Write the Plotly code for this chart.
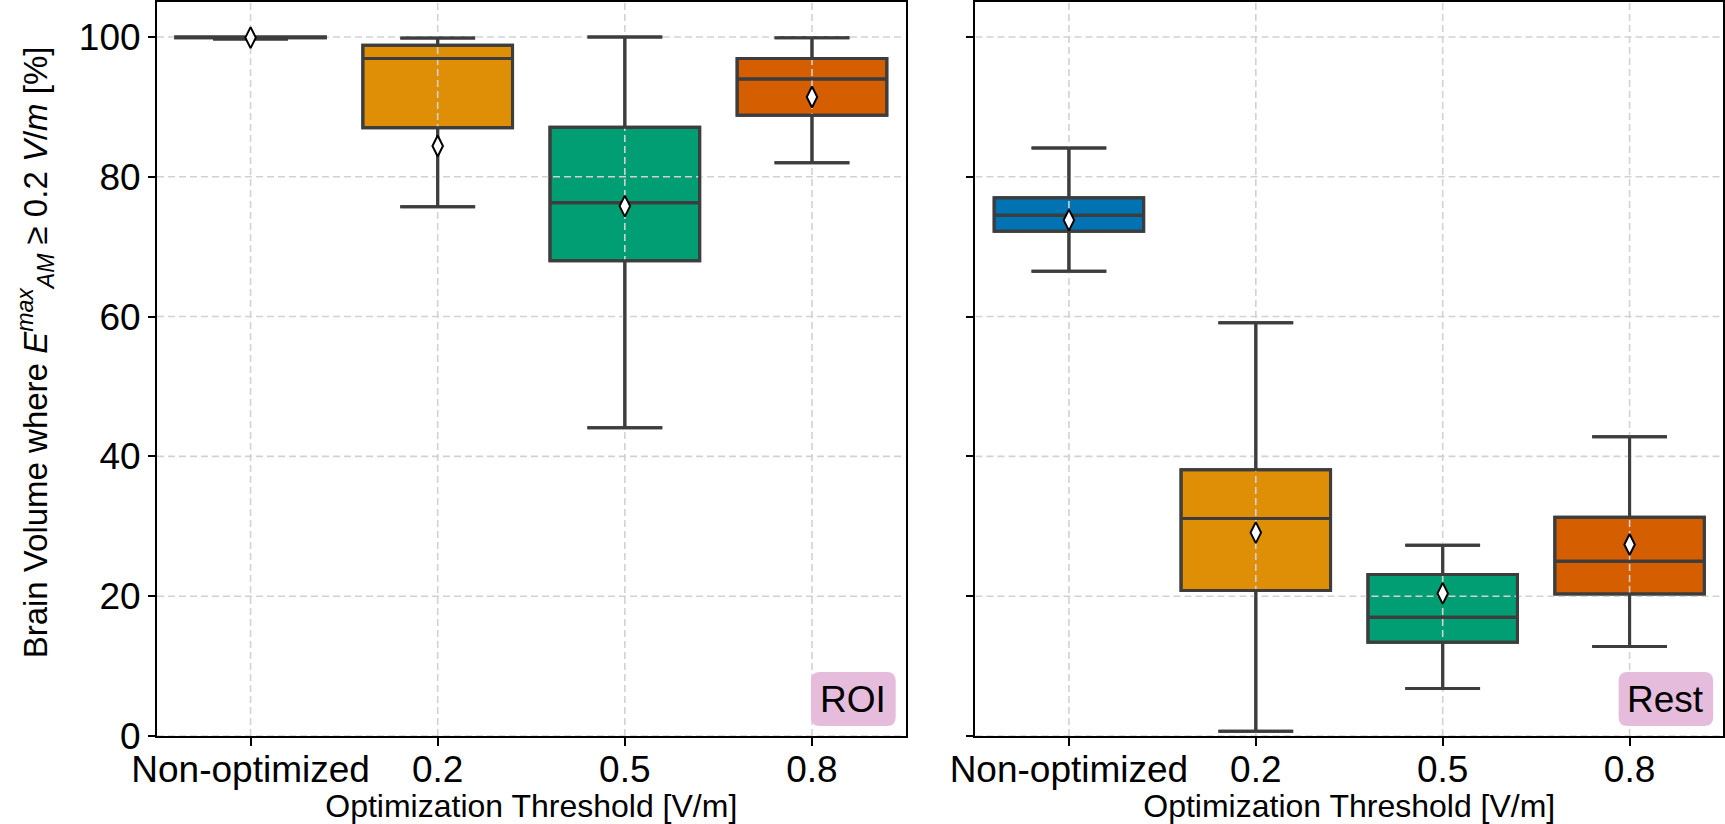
import plotly.graph_objects as go

categories = ["Non-optimized", "0.2", "0.5", "0.8"]
colors = ["#0173B2", "#DE8F05", "#029E73", "#D55E00"]

# ROI panel statistics
roi_lower = [99.7, 75.7, 44.1, 82.0]
roi_q1 = [99.9, 87.0, 68.0, 88.8]
roi_median = [100.0, 96.9, 76.3, 94.0]
roi_q3 = [100.0, 98.8, 87.1, 96.9]
roi_upper = [100.0, 99.86, 100.0, 99.9]
roi_mean = [99.9, 84.4, 75.8, 91.4]

# Rest panel statistics
rest_lower = [66.5, 0.67, 6.8, 12.8]
rest_q1 = [72.2, 20.8, 13.4, 20.3]
rest_median = [74.5, 31.1, 17.0, 25.0]
rest_q3 = [77.0, 38.1, 23.1, 31.3]
rest_upper = [84.1, 59.1, 27.3, 42.8]
rest_mean = [73.8, 29.1, 20.4, 27.4]

y_ticks = [0, 20, 40, 60, 80, 100]
panel_labels = ["ROI", "Rest"]
x_title = "Optimization Threshold [V/m]"
y_title = "Brain Volume where <i>E</i><sup><i>max</i></sup><sub><i>AM</i></sub> ≥ 0.2 <i>V</i>/<i>m</i> [%]"

W, H = 1725, 824
FONT = "Liberation Sans, Arial, sans-serif"
LINE = "#3d3d3d"
GRID = "#d2d2d2"

fig = go.Figure()

panels = [
    (roi_lower, roi_q1, roi_median, roi_q3, roi_upper, roi_mean),
    (rest_lower, rest_q1, rest_median, rest_q3, rest_upper, rest_mean),
]
# base axes (filled boxes + grid) and overlay axes (outlines + means)
base_axes = [("x", "y"), ("x2", "y2")]
top_axes = [("x3", "y3"), ("x4", "y4")]
positions = list(range(len(categories)))
xr = [-0.5, len(categories) - 0.5]
yr = [0, 105]

for (lo, q1, med, q3, up, mn), (xa, ya), (xt, yt) in zip(panels, base_axes, top_axes):
    for i, cat in enumerate(categories):
        stats = dict(x=[positions[i]], q1=[q1[i]], median=[med[i]], q3=[q3[i]],
                     lowerfence=[lo[i]], upperfence=[up[i]], width=0.8, whiskerwidth=0.5,
                     boxpoints=False, name=cat, showlegend=False, hoverinfo="skip")
        fig.add_trace(go.Box(fillcolor=colors[i], line=dict(color=LINE, width=3),
                             xaxis=xa, yaxis=ya, **stats))
        fig.add_trace(go.Box(fillcolor="rgba(0,0,0,0)", line=dict(color=LINE, width=3),
                             xaxis=xt, yaxis=yt, **stats))
    # dashed grid drawn above box fills, below outlines
    for yv in y_ticks:
        fig.add_trace(go.Scatter(x=xr, y=[yv, yv], mode="lines",
                                 line=dict(color=GRID, width=1.6, dash="7px,4px"),
                                 showlegend=False, hoverinfo="skip", xaxis=xa, yaxis=ya))
    for p in positions:
        fig.add_trace(go.Scatter(x=[p, p], y=yr, mode="lines",
                                 line=dict(color=GRID, width=1.6, dash="7px,4px"),
                                 showlegend=False, hoverinfo="skip", xaxis=xa, yaxis=ya))
    # means
    fig.add_trace(go.Scatter(
        x=positions, y=mn, mode="markers",
        marker=dict(symbol="diamond-tall", size=15, color="white",
                    line=dict(color="black", width=2)),
        showlegend=False, hoverinfo="skip", xaxis=xt, yaxis=yt,
    ))

ml, mr, mt, mb = 0, 0, 1, 88
dom1 = [133 / W, 893 / W]
dom2 = [964 / W, 1723 / W]

common_x = dict(
    range=xr, tickmode="array", tickvals=positions, ticktext=categories,
    showgrid=False, zeroline=False, showline=True, linecolor="black", linewidth=2,
    mirror=True, ticks="outside", ticklen=8, tickwidth=2, tickcolor="black",
    ticklabelstandoff=-8,
    tickfont=dict(family=FONT, size=37, color="black"),
    title=dict(text=x_title, font=dict(family=FONT, size=32, color="black"),
               standoff=10),
)
common_y = dict(
    range=yr, tickvals=y_ticks, showgrid=False, zeroline=False, showline=True,
    linecolor="black", linewidth=2, mirror=True, ticks="outside", ticklen=7,
    tickwidth=2, tickcolor="black",
    tickfont=dict(family=FONT, size=37, color="black"),
)
hidden_x = dict(range=xr, visible=False, showgrid=False, zeroline=False)
hidden_y = dict(range=yr, visible=False, showgrid=False, zeroline=False)

fig.update_layout(
    width=W, height=H, margin=dict(l=ml, r=mr, t=mt, b=mb),
    paper_bgcolor="white", plot_bgcolor="white",
    boxmode="overlay",
    xaxis=dict(domain=dom1, anchor="y", **common_x),
    xaxis2=dict(domain=dom2, anchor="y2", **common_x),
    yaxis=dict(anchor="x", **common_y),
    yaxis2=dict(anchor="x2", matches="y", showticklabels=False, **common_y),
    xaxis3=dict(domain=dom1, anchor="y3", overlaying="x", **hidden_x),
    yaxis3=dict(anchor="x3", overlaying="y", **hidden_y),
    xaxis4=dict(domain=dom2, anchor="y4", overlaying="x2", **hidden_x),
    yaxis4=dict(anchor="x4", overlaying="y2", **hidden_y),
)

plot_h = H - mt - mb
# y-axis title as a rotated annotation
fig.add_annotation(text=y_title, textangle=-90, xref="paper", yref="paper",
                   x=10 / W, y=(H - mb - 352) / plot_h, xanchor="center", yanchor="middle",
                   showarrow=False, font=dict(family=FONT, size=33, color="black"))

# rounded label boxes at lower-right corner of each panel
def rounded_path(x0, y0, x1, y1, rx, ry):
    return (f"M{x0+rx},{y0} L{x1-rx},{y0} Q{x1},{y0} {x1},{y0+ry} "
            f"L{x1},{y1-ry} Q{x1},{y1} {x1-rx},{y1} L{x0+rx},{y1} "
            f"Q{x0},{y1} {x0},{y1-ry} L{x0},{y0+ry} Q{x0},{y0} {x0+rx},{y0} Z")

box_px = [(86, 54), (96, 54)]
for (xa, ya), label, (bw, bh), dom in zip(top_axes, panel_labels, box_px, [dom1, dom2]):
    pw = (dom[1] - dom[0]) * W
    x1 = 1 - 10 / pw
    x0 = x1 - bw / pw
    y0 = 10 / plot_h
    y1 = y0 + bh / plot_h
    rx, ry = 9 / pw, 9 / plot_h
    fig.add_shape(type="path", path=rounded_path(x0, y0, x1, y1, rx, ry),
                  xref=f"{xa} domain", yref=f"{ya} domain",
                  fillcolor="#e6bcdd", line=dict(width=0), layer="above")
    fig.add_annotation(text=label, xref=f"{xa} domain", yref=f"{ya} domain",
                       x=(x0 + x1) / 2, y=(y0 + y1) / 2, xanchor="center", yanchor="middle",
                       showarrow=False, font=dict(family=FONT, size=37, color="black"))

fig.write_html("out.html", config={"displayModeBar": False},
               post_script="document.body.style.margin='0';")
